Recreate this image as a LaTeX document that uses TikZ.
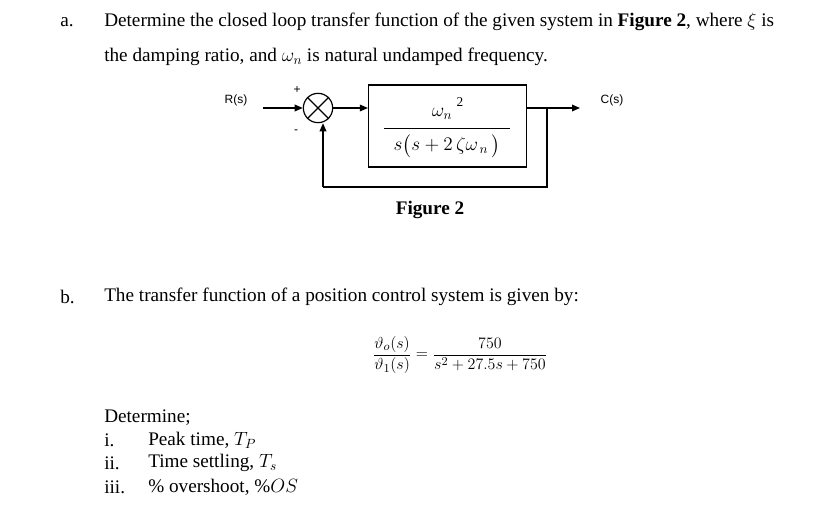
\documentclass[tikz,border=0pt]{standalone}
\usepackage{amsmath}
\usepackage{fontspec}
\setmainfont{Liberation Serif}
\newfontfamily\lsans{Liberation Sans}
\usetikzlibrary{arrows.meta}
\begin{document}
\begin{tikzpicture}[x=0.75pt,y=-0.75pt,
  txt/.style={anchor=west,inner sep=0pt,font=\fontsize{14.4}{17}\selectfont},
  lbl/.style={inner sep=0pt,font=\lsans\fontsize{9}{11}\selectfont},
  sig/.style={line width=0.9pt,-{Triangle[length=6pt,width=5pt]}},
  ln/.style={line width=0.9pt}]
\useasboundingbox (0,0) rectangle (814,531);
\fill[white] (0,0) rectangle (814,531);
\node[txt] (la) at (60,22) {a.};
\node[txt] (ta1) at (104,22) {Determine the closed loop transfer function of the given system in \textbf{Figure 2}, where $\xi$ is};
\node[txt] (ta2) at (104,57) {the damping ratio, and $\omega_n$ is natural undamped frequency.};
\node[lbl] (R) at (236,100) {R(s)};
\node[lbl] (C) at (612,100) {C(s)};
\node[draw,circle,minimum size=22pt,inner sep=0pt,line width=0.9pt] (sum) at (318,108) {};
\draw[line width=0.9pt] (sum.north west)--(sum.south east) (sum.north east)--(sum.south west);
\node[lbl] (plus) at (297,90) {+};
\node[lbl] (minus) at (296,132) {-};
\coordinate (in) at (263,108);
\node[draw,line width=0.9pt,minimum width=118.5pt,minimum height=61.5pt,inner sep=0pt] (G) at (447.5,126) {};
\node[inner sep=0pt,font=\fontsize{14}{16}\selectfont] (num) at (442,114) {$\omega_{n}$};
\node[inner sep=0pt,font=\fontsize{10}{12}\selectfont] (sq) at (460,102) {2};
\draw[line width=0.6pt] (384,128) -- (510,128);
\node[inner sep=0pt,font=\fontsize{14}{16}\selectfont] (den) at (447,146) {$s\bigl(s+2\,\zeta\omega_{\,n}\,\bigr)$};
\coordinate (br) at (547,108);
\coordinate (out) at (580,108);
\coordinate (fb1) at (547,187);
\coordinate (fb2) at (323,187);
\draw[sig] (in) -- (sum.west);
\draw[sig] (sum.east) -- (G.west |- sum.east);
\draw[sig] (G.east |- br) -- (out);
\draw[ln] (br) -- (fb1) -- (fb2);
\draw[sig] (fb2) -- (fb2 |- sum.south);
\node[inner sep=0pt,font=\bfseries\fontsize{14.4}{17}\selectfont] (fig) at (430,210) {Figure 2};
\node[txt] (lb) at (60,297) {b.};
\node[txt] (tb) at (104,297) {The transfer function of a position control system is given by:};
\node[inner sep=0pt,font=\fontsize{13}{15}\selectfont] (eq) at (460,355) {$\dfrac{\vartheta_{o}(s)}{\vartheta_{1}(s)}=\dfrac{750}{s^{2}+27.5s+750}$};
\node[txt] (d0) at (104,418) {Determine;};
\node[txt] (d1n) at (104,440) {i.};
\node[txt] (d1) at (148,440) {Peak time, $T_P$};
\node[txt] (d2n) at (104,463) {ii.};
\node[txt] (d2) at (148,463) {Time settling, $T_s$};
\node[txt] (d3n) at (104,487) {iii.};
\node[txt] (d3) at (148,487) {\% overshoot, \%$OS$};
\end{tikzpicture}
\end{document}
